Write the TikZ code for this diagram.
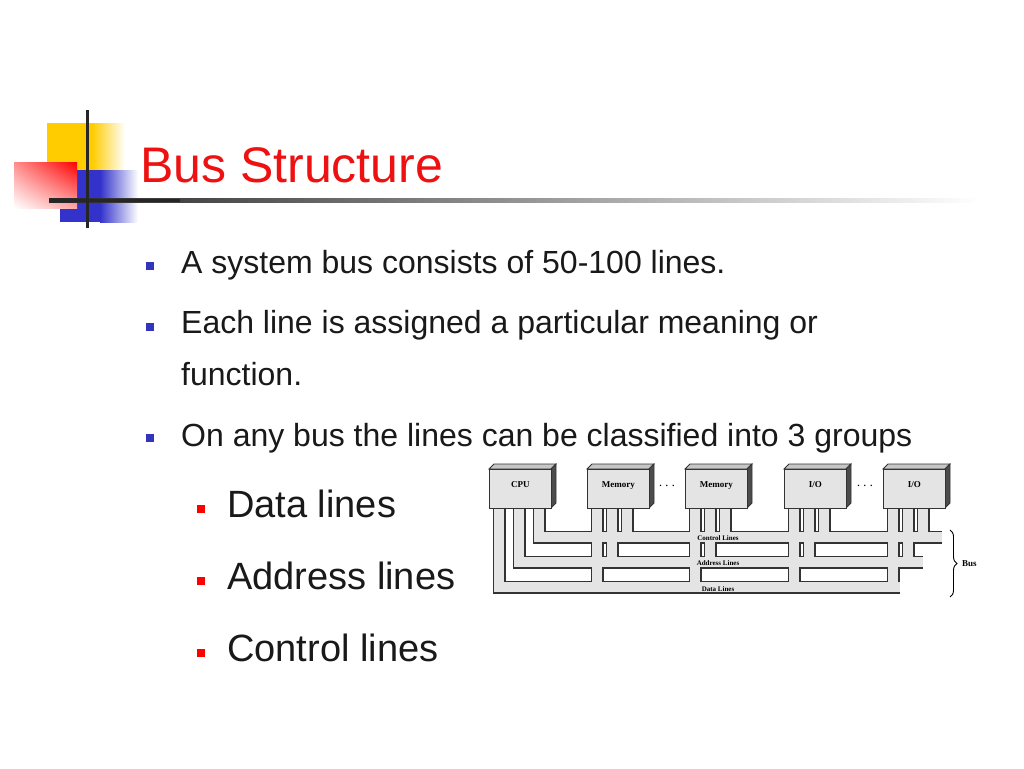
\documentclass[tikz,border=0pt]{standalone}
\usepackage{fontspec}
\setmainfont{Liberation Sans}
\newfontfamily\figfont{Liberation Serif}
\usetikzlibrary{decorations.pathreplacing,shadings}
\definecolor{titlered}{HTML}{EE1111}
\definecolor{bulblue}{HTML}{3333BB}
\definecolor{pipegray}{HTML}{E4E4E4}
\definecolor{logoyel}{HTML}{FFCC00}
\definecolor{logoblue}{HTML}{3333CC}
\begin{document}
\begin{tikzpicture}[x=1pt,y=-1pt,
  pipeout/.style={line width=13pt,black!80,line cap=butt,line join=miter},
  pipein/.style={line width=10.5pt,pipegray,line cap=butt,line join=miter},
  bullet/.style={fill=bulblue,minimum size=8pt,inner sep=0pt},
  subbullet/.style={fill=red,minimum size=8pt,inner sep=0pt},
  txt/.style={anchor=base west,inner sep=0pt,font=\fontsize{32}{36}\selectfont,text=black!90},
  subtxt/.style={anchor=base west,inner sep=0pt,font=\fontsize{38}{42}\selectfont,text=black!90},
  lbl/.style={font=\figfont\bfseries\fontsize{7}{8}\selectfont,inner sep=0pt}]
\useasboundingbox (0,0) rectangle (1024,768);
\fill[white] (0,0) rectangle (1024,768);
% logo
\fill[logoyel] (47,123) rectangle (92,170);
\shade[left color=logoyel,right color=white] (92,123) rectangle (125,170);
\fill[logoblue] (60,170) rectangle (100,222);
\shade[left color=logoblue,right color=white] (100,170) rectangle (138,222);
\shade[upper right=red,upper left=red!45,lower right=red!35,lower left=white] (14,162) rectangle (77,208);
\shade[left color=black!85,right color=white] (49,198.5) rectangle (980,202);
\fill[black!85] (49,198.5) rectangle (180,202);
\fill[black!85] (85.5,110) rectangle (89,228);
% title
\node[anchor=base west,inner sep=0pt,text=titlered,font=\fontsize{50}{54}\selectfont] (title) at (140,182) {Bus Structure};
% bullets
\node[bullet] (b1) at (150,266) {};
\node[txt] (t1) at (181,273) {A system bus consists of 50-100 lines.};
\node[bullet] (b2) at (150,327) {};
\node[txt] (t2) at (181,333) {Each line is assigned a particular meaning or};
\node[txt] (t2b) at (181,385) {function.};
\node[bullet] (b3) at (150,438) {};
\node[txt] (t3) at (181,446) {On any bus the lines can be classified into 3 groups};
\node[subbullet] (s1) at (201,509) {};
\node[subtxt] (u1) at (227,517) {Data lines};
\node[subbullet] (s2) at (201,581) {};
\node[subtxt] (u2) at (227,589) {Address lines};
\node[subbullet] (s3) at (201,653) {};
\node[subtxt] (u3) at (227,661) {Control lines};
% bus pipes
\def\pipes#1{%
  \draw[#1] (499,505) |- (900,587);
  \draw[#1] (519,505) |- (923,562);
  \draw[#1] (539,505) |- (942,537);
  \foreach \L in {587,685,784,883}{
    \draw[#1] (\L+10,505) -- (\L+10,587);
    \draw[#1] (\L+25,505) -- (\L+25,562);
    \draw[#1] (\L+40,505) -- (\L+40,537);
  }}
\pipes{pipeout}
\pipes{pipein}
% modules
\foreach \L/\nm/\t in {489/cpu/{CPU},587/mem1/{Memory},685/mem2/{Memory},784/io1/{I/O},883/io2/{I/O}}{
  \fill[pipegray!70!gray,draw=black!80,line width=0.8pt] (\L,469) -- (\L+5,464) -- (\L+67,464) -- (\L+62,469) -- cycle;
  \fill[black!70,draw=black!80,line width=0.8pt] (\L+62,469) -- (\L+67,464) -- (\L+67,503) -- (\L+62,508) -- cycle;
  \node[draw=black!80,fill=pipegray,line width=0.8pt,minimum width=62pt,minimum height=39pt,anchor=north west,inner sep=0pt,font=\figfont\bfseries\fontsize{9}{10}\selectfont] (\nm) at (\L,469) {\raisebox{8pt}{\t}};
}
\node[font=\bfseries\fontsize{14}{14}\selectfont] (d1) at (667,486) {$\cdots$};
\node[font=\bfseries\fontsize{14}{14}\selectfont] (d2) at (865,486) {$\cdots$};
\node[lbl] (cl) at (718,538) {Control Lines};
\node[lbl] (al) at (718,563) {Address Lines};
\node[lbl] (dl) at (718,589) {Data Lines};
\coordinate (bt) at (950,530);
\coordinate (bb) at (950,597);
\draw[line width=0.9pt,decorate,decoration={brace,amplitude=7pt}] (bt) -- (bb);
\node[font=\figfont\bfseries\fontsize{9}{10}\selectfont,anchor=west,inner sep=0pt] (bus) at (962,564) {Bus};
\end{tikzpicture}
\end{document}
